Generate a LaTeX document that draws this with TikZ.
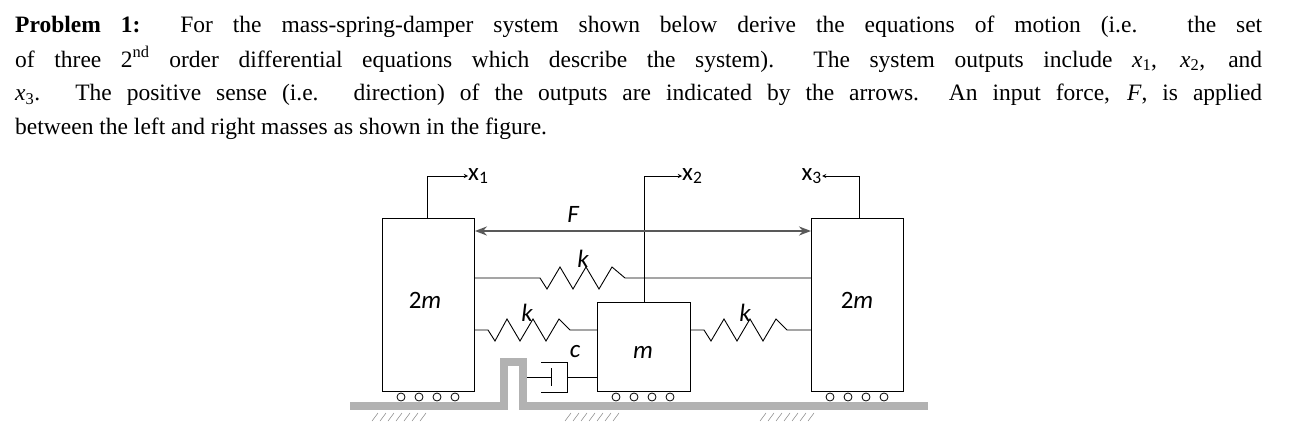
\documentclass[tikz,border=0pt]{standalone}
\usepackage{fontspec}
\usetikzlibrary{arrows.meta}
\setmainfont{Liberation Serif}
\newfontfamily\lab{Carlito}
\newcommand{\xv}[1]{\textit{x}\textsubscript{#1}}
\begin{document}
\begin{tikzpicture}[x=1pt,y=-1pt,
  mass/.style={draw,line width=0.9pt},
  wire/.style={line width=0.9pt},
  grd/.style={draw=gray!60,line width=8pt},
  roll/.style={draw,line width=0.8pt,fill=white},
  hatch/.style={gray,line width=0.5pt},
  lbl/.style={font=\lab\fontsize{25}{25}\selectfont\itshape,inner sep=0pt},
  tl/.style={anchor=base west,inner sep=0pt,font=\fontsize{23.5}{28}\selectfont}]
\useasboundingbox (0,0) rectangle (1294,444);
% text
\node[tl] (l1) at (15,33) {\makebox[1247pt][s]{\textbf{Problem 1:}\ \ For the mass-spring-damper system shown below derive the equations of motion (i.e. the set}};
\node[tl] (l2) at (15,67) {\makebox[1247pt][s]{of three 2\textsuperscript{nd} order differential equations which describe the system).\ \ The system outputs include \xv{1}, \xv{2}, and}};
\node[tl] (l3) at (15,101) {\makebox[1247pt][s]{\xv{3}. The positive sense (i.e. direction) of the outputs are indicated by the arrows.\ \ An input force, \textit{F}, is applied}};
\node[tl] (l4) at (15,135) {between the left and right masses as shown in the figure.};
% ground
\draw[grd] (350,406) -- (504,406) -- (504,362) -- (523,362) -- (523,406) -- (928,406);
\foreach \x in {372,380,...,420,565,573,...,613,760,768,...,808}
  \draw[hatch] (\x,421) -- (\x+6,413);
% masses
\node[mass,minimum width=92pt,minimum height=173pt,anchor=north west,inner sep=0pt] (M1) at (382,218) {};
\node[mass,minimum width=93pt,minimum height=89pt,anchor=north west,inner sep=0pt] (M2) at (597,302) {};
\node[mass,minimum width=92pt,minimum height=173pt,anchor=north west,inner sep=0pt] (M3) at (811,218) {};
\node[lbl,font=\lab\fontsize{25}{25}\selectfont] (t1) at (425,300) {2\textit{m}};
\node[lbl] (t2) at (643,352) {m};
\node[lbl,font=\lab\fontsize{25}{25}\selectfont] (t3) at (857,300) {2\textit{m}};
% rollers
\foreach \x in {401,419,437,455} \draw[roll] (\x,397) circle (4);
\foreach \x in {616,634,652,670} \draw[roll] (\x,397) circle (4);
\foreach \x in {830,848,866,884} \draw[roll] (\x,397) circle (4);
% outputs
\coordinate (a1) at (427,176); \coordinate (b1) at (468,176);
\draw[wire,-stealth] (M1.north -| a1) -- (a1) -- (b1);
\node[lbl,font=\lab\fontsize{25}{25}\selectfont,anchor=west] (x1) at (b1) {x\textsubscript{1}};
\coordinate (a2) at (644,176); \coordinate (b2) at (682,176);
\draw[wire,-stealth] (M2.north -| a2) -- (a2) -- (b2);
\node[lbl,font=\lab\fontsize{25}{25}\selectfont,anchor=west] (x2) at (b2) {x\textsubscript{2}};
\coordinate (a3) at (859,176); \coordinate (b3) at (822,176);
\draw[wire,-stealth] (M3.north -| a3) -- (a3) -- (b3);
\node[lbl,font=\lab\fontsize{25}{25}\selectfont,anchor=east] (x3) at (b3) {x\textsubscript{3}};
% force
\draw[draw=gray!70!black,line width=2.5pt,{Stealth[length=12pt,width=9pt]}-{Stealth[length=12pt,width=9pt]}] (M1.east |- 0,231) -- (M3.west |- 0,231);
\node[lbl] (F) at (573,214) {F};
% top spring
\draw[wire] (M1.east |- 0,278) -- (540,278) -- (547,289) -- (560,267) -- (573,289) -- (586,267) -- (599,289) -- (612,267) -- (625,278) -- (M3.west |- 0,278);
\node[lbl] (k1) at (583,259) {k};
% left spring
\draw[wire] (M1.east |- 0,330) -- (488,330) -- (495,341) -- (507,319) -- (520,341) -- (533,319) -- (546,341) -- (559,319) -- (570,330) -- (M2.west |- 0,330);
\node[lbl] (k2) at (527,313) {k};
% right spring
\draw[wire] (M2.east |- 0,330) -- (704,330) -- (711,341) -- (724,319) -- (737,341) -- (750,319) -- (763,341) -- (776,319) -- (787,330) -- (M3.west |- 0,330);
\node[lbl] (k3) at (745,313) {k};
% damper
\draw[wire] (M2.west |- 0,377) -- (567,377);
\draw[wire] (541,362) -- (567,362) -- (567,392) -- (541,392);
\draw[wire] (551,368) -- (551,386);
\draw[wire] (551,377) -- (527,377);
\node[lbl] (c) at (575,352) {c};
\end{tikzpicture}
\end{document}
